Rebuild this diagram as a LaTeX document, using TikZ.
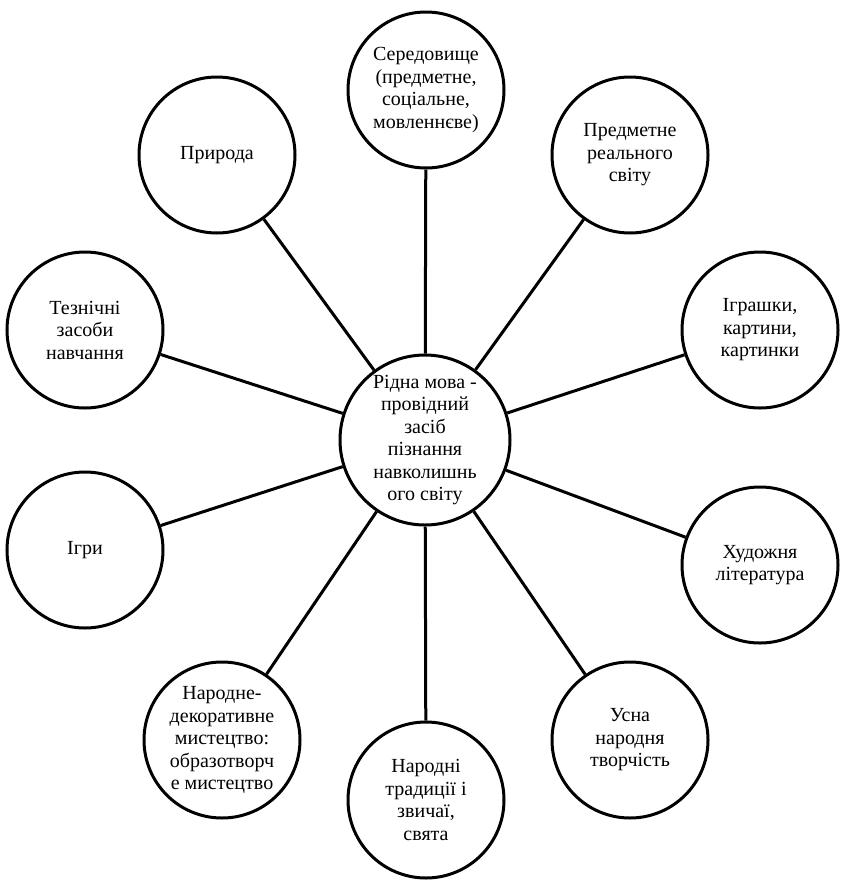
\documentclass[tikz,border=0pt]{standalone}
\usepackage{fontspec}
\setmainfont{Liberation Serif}
\begin{document}
\begin{tikzpicture}[x=1pt,y=-1pt,
  circ/.style={circle,draw,line width=3pt,minimum size=156pt,inner sep=0pt,align=center,font=\fontsize{20}{22.5}\selectfont},
  link/.style={line width=3pt}]
\useasboundingbox (0,0) rectangle (850,884);
\node[circ,minimum size=170pt] (c) at (425,440) {Рідна мова -\\провідний\\засіб\\пізнання\\навколишнь\\ого світу};
\node[circ] (a) at (426,90) {Середовище\\(предметне,\\соціальне,\\мовленнєве)};
\node[circ] (b) at (630,155) {Предметне\\реального\\світу};
\node[circ] (d) at (760,330) {Іграшки,\\картини,\\картинки};
\node[circ] (e) at (760,565) {Художня\\література};
\node[circ] (f) at (630,740) {Усна\\народня\\творчість};
\node[circ] (g) at (426,800) {Народні\\традиції і\\звичаї,\\свята};
\node[circ] (h) at (222,740) {Народне-\\декоративне\\мистецтво:\\образотворч\\е мистецтво};
\node[circ] (i) at (85,550) {Ігри};
\node[circ] (j) at (85,330) {Тезнічні\\засоби\\навчання};
\node[circ] (k) at (217,155) {Природа};
\foreach \n in {a,b,d,e,f,g,h,i,j,k} \draw[link] (c) -- (\n);
\end{tikzpicture}
\end{document}
